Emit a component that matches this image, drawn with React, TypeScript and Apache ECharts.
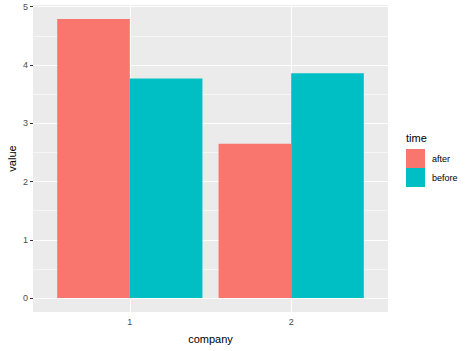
import React, { useEffect, useRef } from "react";
import * as echarts from "echarts";

const categories = [1, 2];
const categoryLabels = ["1", "2"];
const afterValues = [4.79, 2.65];
const beforeValues = [3.77, 3.86];
const yTicks = [0, 1, 2, 3, 4, 5];
const yMinorTicks = [0.5, 1.5, 2.5, 3.5, 4.5];

const FONT = "Liberation Sans, Arial, sans-serif";

export default function App() {
  const ref = useRef<HTMLDivElement>(null);
  useEffect(() => {
    if (!ref.current) return;
    const chart = echarts.init(ref.current, null, { renderer: "svg" });
    const gridLeft = 33;
    const gridTop = 5;
    const gridWidth = 355;
    const gridHeight = 307;
    const xMin = 0.4;
    const xMax = 2.6;
    const barW = (gridWidth / (xMax - xMin)) * 0.45;
    const dataMax = Math.max(...afterValues, ...beforeValues);
    const yMin = -0.05 * dataMax;
    const yMax = 1.05 * dataMax;

    const minorStyle = { color: "#ffffff", width: 0.55, type: "solid" };
    const majorStyle = { color: "#ffffff", width: 1.1, type: "solid" };

    chart.setOption({
      animation: false,
      backgroundColor: "#ffffff",
      textStyle: { fontFamily: FONT },
      title: {
        text: "time",
        left: 406,
        top: 132,
        textStyle: { fontFamily: FONT, fontSize: 11, fontWeight: "normal", color: "#000000" },
        padding: 0,
      },
      legend: {
        orient: "vertical",
        left: 406,
        top: 149,
        itemWidth: 19,
        itemHeight: 19,
        itemGap: 0,
        padding: 0,
        icon: "rect",
        selectedMode: false,
        textStyle: { fontFamily: FONT, fontSize: 9, color: "#000000", padding: [0, 0, 0, 2] },
        data: ["after", "before"],
      },
      grid: {
        left: gridLeft,
        top: gridTop,
        width: gridWidth,
        height: gridHeight,
        show: true,
        backgroundColor: "#EBEBEB",
        borderWidth: 0,
        containLabel: false,
        outerBoundsMode: "none",
      },
      xAxis: {
        type: "value",
        min: xMin,
        max: xMax,
        name: "company",
        nameLocation: "middle",
        nameGap: 21,
        nameMoveOverlap: false,
        nameTextStyle: { fontFamily: FONT, fontSize: 11, color: "#000000" },
        axisLine: { show: false },
        splitLine: { show: false },
        axisTick: {
          show: true,
          length: 3,
          customValues: categories,
          lineStyle: { color: "#333333", width: 1 },
        },
        axisLabel: {
          customValues: categories,
          margin: 5,
          fontFamily: FONT,
          fontSize: 9,
          color: "#4D4D4D",
          formatter: (v: number) => categoryLabels[categories.indexOf(Math.round(v))] ?? "",
        },
      },
      yAxis: {
        type: "value",
        min: yMin,
        max: yMax,
        name: "value",
        nameLocation: "middle",
        nameGap: 16,
        nameMoveOverlap: false,
        nameRotate: 90,
        nameTextStyle: { fontFamily: FONT, fontSize: 11, color: "#000000" },
        axisLine: { show: false },
        splitLine: { show: false },
        axisTick: {
          show: true,
          length: 3,
          customValues: yTicks,
          lineStyle: { color: "#333333", width: 1 },
        },
        axisLabel: {
          customValues: yTicks,
          margin: 5,
          fontFamily: FONT,
          fontSize: 9,
          color: "#4D4D4D",
        },
      },
      series: [
        {
          name: "grid",
          type: "line",
          data: [],
          silent: true,
          z: 1,
          markLine: {
            silent: true,
            symbol: "none",
            z: 1,
            label: { show: false },
            data: [
              ...yMinorTicks.map((v) => [
                { coord: [xMin, v], lineStyle: minorStyle },
                { coord: [xMax, v] },
              ]),
              ...yTicks.map((v) => [
                { coord: [xMin, v], lineStyle: majorStyle },
                { coord: [xMax, v] },
              ]),
              ...categories.map((v) => [
                { coord: [v, yMin], lineStyle: majorStyle },
                { coord: [v, yMax] },
              ]),
            ],
          },
        },
        {
          name: "after",
          type: "bar",
          barWidth: barW,
          barGap: "0%",
          itemStyle: { color: "#F8766D" },
          data: categories.map((c, i) => [c, afterValues[i]]),
          z: 3,
        },
        {
          name: "before",
          type: "bar",
          barWidth: barW,
          barGap: "0%",
          itemStyle: { color: "#00BFC4" },
          data: categories.map((c, i) => [c, beforeValues[i]]),
          z: 3,
        },
      ],
    });
    return () => chart.dispose();
  }, []);
  return <div ref={ref} style={{ width: 474, height: 351, position: "absolute", left: 0, top: 0 }} />;
}
